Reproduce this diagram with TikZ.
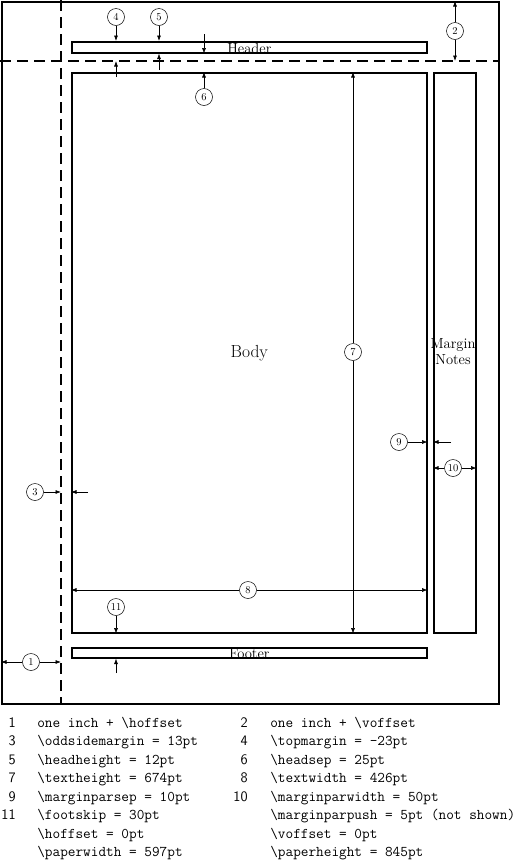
\documentclass[tikz,border=0pt]{standalone}
\usetikzlibrary{arrows,arrows.meta}
\tikzstyle{frame}=[draw, line width=1.8pt, inner sep=0pt, anchor=north west]
\tikzstyle{num}=[circle, draw, line width=0.5pt, inner sep=0pt, minimum size=17pt,
font=\fontsize{10.5}{12}\selectfont]
\tikzstyle{dashline}=[line width=1.8pt, dash pattern=on 11pt off 6pt]
\tikzstyle{lbl}=[font=\fontsize{14.6}{17}\selectfont, inner sep=0pt]
\tikzstyle{idx}=[font=\fontsize{14.5}{18.57}\selectfont\sffamily, inner sep=0pt, anchor=base east]
\tikzstyle{val}=[font=\fontsize{14.86}{18.57}\selectfont\ttfamily, inner sep=0pt, anchor=base west]
\newcommand{\lencs}[1]{\textbackslash #1}

\begin{document}
\begin{tikzpicture}[x=1pt, y=-1pt, >={Latex[length=5.5pt, width=4pt]}, line width=0.6pt]
\useasboundingbox (0,0) rectangle (520,860);
% page and offsets
\node[frame, minimum width=497pt, minimum height=702pt](page) at (1,1) {};
\coordinate (hofs) at (61,703);
\coordinate (vofs) at (498,61);
\draw[dashline] (61,0) -- (hofs);
\draw[dashline] (0,61) -- (vofs);
% boxes
\node[frame, line width=1.6pt, minimum width=355pt, minimum height=11pt](header) at (71,41) {};
\node[lbl, anchor=base] at (header.south) {Header};
\node[frame, line width=1.6pt, minimum width=355pt, minimum height=560pt,
font=\fontsize{17.5}{20}\selectfont](body) at (71,72) {Body};
\node[frame, line width=1.6pt, minimum width=42pt, minimum height=560pt](margin) at (433,72) {};
\node[lbl, align=center, font=\fontsize{14.6}{16}\selectfont] at (453,352) {Margin\\Notes};
\node[frame, line width=1.6pt, minimum width=355pt, minimum height=10pt](footer) at (71,647) {};
\node[lbl, anchor=base] at (footer.south) {Footer};
% numbered marks
\node[num](num1) at (31,662) {1};
\node[num](num2) at (455,31) {2};
\node[num](num3) at (35,492) {3};
\node[num](num4) at (116,17) {4};
\node[num](num5) at (159,17) {5};
\node[num](num6) at (204,97) {6};
\node[num](num7) at (353,352) {7};
\node[num](num8) at (248,590) {8};
\node[num](num9) at (399,442) {9};
\node[num](num10) at (453,468) {10};
\node[num](num11) at (116,607) {11};
\coordinate (end3) at (88,492);
\coordinate (end4) at (116,77);
\coordinate (end5) at (159,70);
\coordinate (end6) at (204,34);
\coordinate (end9) at (451,442);
\coordinate (end11) at (116,673);
\draw [->](num1) -- (num1 -| page.west);
\draw [->](num1) -- (num1 -| hofs);
\draw [->](num2) -- (num2 |- page.north);
\draw [->](num2) -- (num2 |- vofs);
\draw [->](num3) -- (num3 -| hofs);
\draw [->](end3) -- (end3 -| body.west);
\draw [->](num4) -- (num4 |- header.north);
\draw [->](end4) -- (end4 |- vofs);
\draw [->](num5) -- (num5 |- header.north);
\draw [->](end5) -- (end5 |- header.south);
\draw [->](num6) -- (num6 |- body.north);
\draw [->](end6) -- (end6 |- header.south);
\draw [->](num7) -- (num7 |- body.north);
\draw [->](num7) -- (num7 |- body.south);
\draw [->](num8) -- (num8 -| body.west);
\draw [->](num8) -- (num8 -| body.east);
\draw [->](num9) -- (num9 -| body.east);
\draw [->](end9) -- (end9 -| margin.west);
\draw [->](num10) -- (num10 -| margin.west);
\draw [->](num10) -- (num10 -| margin.east);
\draw [->](num11) -- (num11 |- body.south);
\draw [->](end11) -- (end11 |- footer.south);
% table of values
\node[idx](idx1) at (16,727) {\begin{tabular}[t]{@{}r@{}}1\\3\\5\\7\\9\\11\end{tabular}};
\node[val](val1) at (37,727) {\begin{tabular}[t]{@{}l@{}}
one inch + \lencs{hoffset}\\
\lencs{oddsidemargin} = 13pt\\
\lencs{headheight} = 12pt\\
\lencs{textheight} = 674pt\\
\lencs{marginparsep} = 10pt\\
\lencs{footskip} = 30pt\\
\lencs{hoffset} = 0pt\\
\lencs{paperwidth} = 597pt
\end{tabular}};
\node[idx](idx2) at (248,727) {\begin{tabular}[t]{@{}r@{}}2\\4\\6\\8\\10\end{tabular}};
\node[val](val2) at (270,727) {\begin{tabular}[t]{@{}l@{}}
one inch + \lencs{voffset}\\
\lencs{topmargin} = -23pt\\
\lencs{headsep} = 25pt\\
\lencs{textwidth} = 426pt\\
\lencs{marginparwidth} = 50pt\\
\lencs{marginparpush} = 5pt (not shown)\\
\lencs{voffset} = 0pt\\
\lencs{paperheight} = 845pt
\end{tabular}};
\end{tikzpicture}
\end{document}
